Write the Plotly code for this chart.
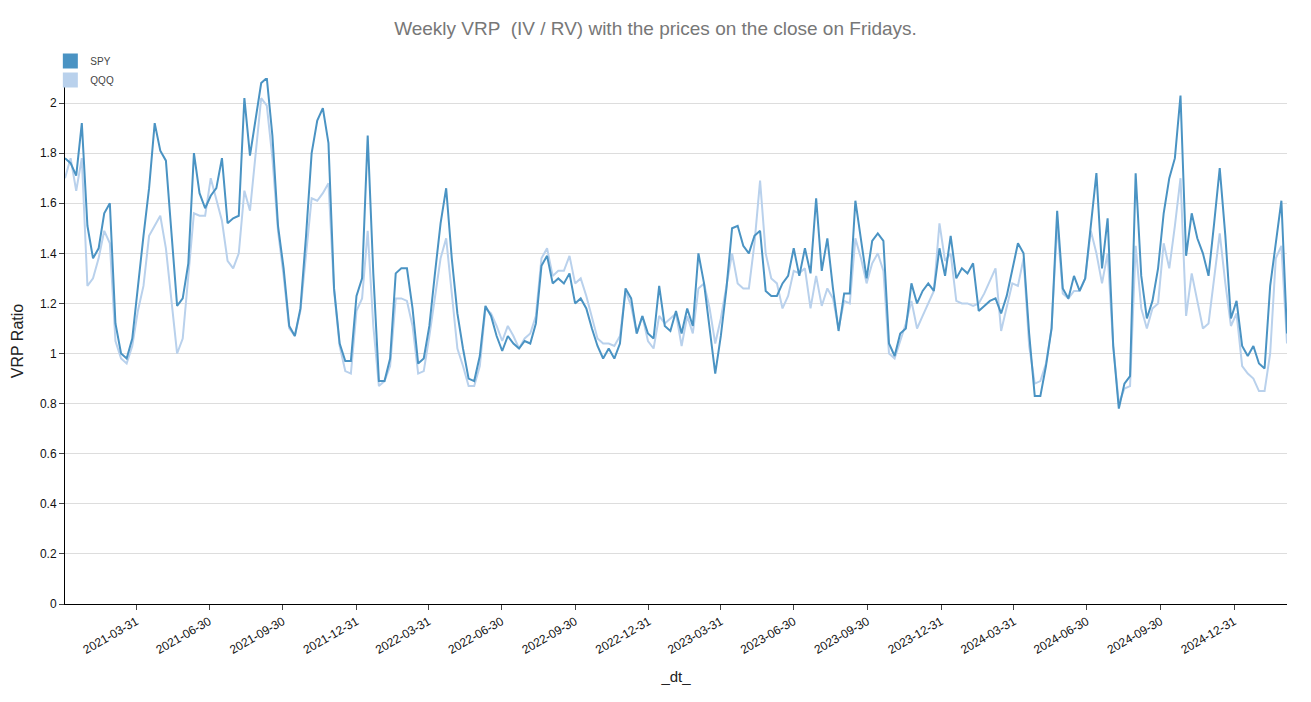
import pandas as pd
import plotly.graph_objects as go

start_date = "2021-01-01"
n_weeks = 219

spy = [1.78,1.76,1.71,1.92,1.51,1.38,1.42,1.56,1.60,1.12,1.00,0.98,1.06,1.27,1.47,1.66,1.92,1.81,1.77,1.48,1.19,1.22,1.36,1.80,1.64,1.58,1.63,1.66,1.78,1.52,1.54,1.55,2.02,1.79,1.94,2.08,2.10,
       1.87,1.51,1.34,1.11,1.07,1.18,1.47,1.80,1.93,1.98,1.84,1.26,1.04,0.97,0.97,1.23,1.30,1.87,1.32,0.89,0.89,0.98,1.32,1.34,1.34,1.18,0.96,0.98,1.11,1.32,1.52,1.66,1.38,1.16,1.02,0.90,
       0.89,0.99,1.19,1.15,1.07,1.01,1.07,1.04,1.02,1.05,1.04,1.12,1.35,1.39,1.28,1.30,1.28,1.32,1.20,1.22,1.18,1.10,1.03,0.98,1.02,0.98,1.04,1.26,1.22,1.08,1.15,1.08,1.06,1.27,1.11,1.09,
       1.17,1.08,1.18,1.11,1.40,1.28,1.11,0.92,1.07,1.26,1.50,1.51,1.43,1.40,1.47,1.49,1.25,1.23,1.23,1.28,1.31,1.42,1.31,1.42,1.32,1.62,1.33,1.46,1.26,1.09,1.24,1.24,1.61,1.46,
       1.30,1.45,1.48,1.45,1.04,0.99,1.08,1.10,1.28,1.20,1.25,1.28,1.25,1.42,1.31,1.47,1.30,1.34,1.32,1.36,1.17,1.19,1.21,1.22,1.16,1.23,1.33,1.44,1.40,1.08,0.83,0.83,0.95,1.10,1.57,
       1.26,1.22,1.31,1.25,1.30,1.51,1.72,1.34,1.54,1.03,0.78,0.88,0.91,1.72,1.31,1.14,1.21,1.34,1.56,1.70,1.78,2.03,1.39,1.56,1.46,1.40,1.31,1.52,1.74,1.47,1.14,1.21,1.03,0.99,1.03,0.96,0.94,1.27,1.45,1.61,1.08]

qqq = [1.70,1.78,1.65,1.78,1.27,1.30,1.38,1.49,1.44,1.05,0.98,0.96,1.03,1.17,1.27,1.47,1.51,1.55,1.42,1.22,1.00,1.06,1.31,1.56,1.55,1.55,1.70,1.62,1.53,1.37,1.34,1.40,1.65,1.57,1.81,2.02,1.99,
       1.78,1.49,1.31,1.10,1.07,1.17,1.41,1.62,1.61,1.64,1.68,1.25,1.03,0.93,0.92,1.17,1.22,1.49,1.11,0.87,0.89,0.95,1.22,1.22,1.21,1.11,0.92,0.93,1.07,1.22,1.38,1.46,1.25,1.02,0.95,0.87,
       0.87,0.95,1.18,1.16,1.11,1.05,1.11,1.07,1.02,1.06,1.08,1.15,1.38,1.42,1.31,1.33,1.33,1.39,1.28,1.30,1.23,1.15,1.06,1.04,1.04,1.03,1.07,1.25,1.19,1.08,1.15,1.05,1.02,1.15,1.12,1.14,
       1.16,1.03,1.15,1.08,1.26,1.28,1.18,1.04,1.14,1.27,1.40,1.28,1.26,1.26,1.44,1.69,1.40,1.30,1.28,1.18,1.23,1.33,1.32,1.34,1.18,1.31,1.19,1.26,1.22,1.10,1.21,1.20,1.46,1.38,
       1.28,1.36,1.40,1.33,1.00,0.98,1.05,1.12,1.21,1.10,1.15,1.20,1.25,1.52,1.37,1.40,1.21,1.20,1.20,1.19,1.20,1.24,1.29,1.34,1.09,1.19,1.28,1.27,1.38,1.03,0.88,0.89,0.96,1.10,1.52,
       1.24,1.22,1.25,1.25,1.30,1.49,1.40,1.28,1.40,1.03,0.80,0.86,0.87,1.43,1.18,1.10,1.18,1.20,1.44,1.34,1.51,1.70,1.15,1.32,1.21,1.10,1.12,1.30,1.48,1.28,1.11,1.16,0.95,0.92,0.90,0.85,0.85,1.00,1.38,1.43,1.04]

tick_dates = ["2021-03-31","2021-06-30","2021-09-30","2021-12-31","2022-03-31","2022-06-30","2022-09-30","2022-12-31",
              "2023-03-31","2023-06-30","2023-09-30","2023-12-31","2024-03-31","2024-06-30","2024-09-30","2024-12-31"]
y_ticks = [0,0.2,0.4,0.6,0.8,1,1.2,1.4,1.6,1.8,2]

dates = pd.date_range(start_date, periods=n_weeks, freq="7D")
SPY_C = "#4a93c3"
QQQ_C = "#b9d1ec"

fig = go.Figure()
fig.add_trace(go.Scatter(x=dates, y=qqq, mode="lines", line=dict(color=QQQ_C, width=2), showlegend=False, name="QQQ"))
fig.add_trace(go.Scatter(x=dates, y=spy, mode="lines", line=dict(color=SPY_C, width=2), showlegend=False, name="SPY"))
fig.add_trace(go.Scatter(x=[None], y=[None], mode="markers", marker=dict(symbol="square", size=15, color=SPY_C), name="SPY"))
fig.add_trace(go.Scatter(x=[None], y=[None], mode="markers", marker=dict(symbol="square", size=15, color=QQQ_C), name="QQQ"))

fig.update_layout(
    width=1295, height=686, paper_bgcolor="white", plot_bgcolor="white",
    margin=dict(l=57, r=16, t=70, b=90, autoexpand=False),
    title=dict(text="Weekly VRP  (IV / RV) with the prices on the close on Fridays.", x=0.5, xanchor="center", y=0.98,
               font=dict(family="Helvetica, Arial, sans-serif", size=19, color="#777777")),
    font=dict(family="Helvetica, Arial, sans-serif", color="#222222"),
    legend=dict(x=-0.012, y=1.06, xanchor="left", yanchor="top", bgcolor="rgba(0,0,0,0)",
                font=dict(size=10, color="#444444"), tracegroupgap=0),
    showlegend=True,
)
fig.update_xaxes(range=[dates[0], dates[-1]], tickvals=pd.to_datetime(tick_dates), ticktext=tick_dates,
                 tickangle=-30, ticks="outside", ticklen=5, showgrid=False, showline=True, linecolor="black",
                 tickfont=dict(size=12, color="#111111"), automargin=False, title=dict(text="_dt_", font=dict(size=15)))
fig.update_yaxes(range=[0, 2.1], tickvals=y_ticks, ticktext=[f"{v:g}" for v in y_ticks], ticks="outside", ticklen=5,
                 showgrid=True, gridcolor="#dddddd", showline=True, linecolor="black", zeroline=False, automargin=False,
                 tickfont=dict(size=12, color="#111111"), title=dict(text="VRP Ratio", font=dict(size=16), standoff=12))
fig.write_html("out.html")
